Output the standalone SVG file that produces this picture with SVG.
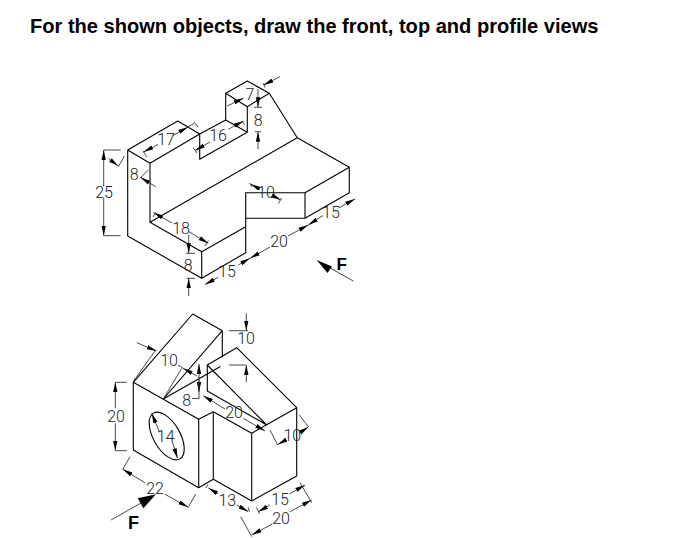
<svg xmlns="http://www.w3.org/2000/svg" width="676" height="538" viewBox="0 0 676 538">
<style>
.e{fill:none;stroke:#000;stroke-width:1.1;stroke-linejoin:round;stroke-linecap:round}
.d{fill:none;stroke:#333;stroke-width:.9;marker-end:url(#a)}
.t{fill:none;stroke:#333;stroke-width:.9}
.l{font-family:"Roboto","Liberation Sans",sans-serif;font-weight:300;font-size:16px;fill:#222;text-anchor:middle}
.b{font-family:"Liberation Sans",Arial,sans-serif;font-weight:700;fill:#000}
.f{fill:#000;stroke:none}
</style>
<defs>
<marker id="a" markerUnits="userSpaceOnUse" markerWidth="11" markerHeight="7" refX="10" refY="3.5" orient="auto"><path d="M0,1.3L10,3.5L0,5.7z" fill="#000"/></marker>
</defs>
<rect width="676" height="538" fill="#fff"/>
<text id="title" class="b" x="30" y="32.5" font-size="20.07">For the shown objects, draw the front, top and profile views</text>

<g id="object-upper">
<path class="e" d="M127.7,150L177.7,121L199.7,134L150,163.3ZM127.7,150V236L201.7,278.3V251.7L150,222.3V163.3M199.7,134V159.3L247.3,132.3L225.7,120L199.7,134M225.7,120V93.3L247.3,81L269.3,93.3L247.3,106.7L225.7,93.3M247.3,106.7V132.3M269.3,93.3L297.3,137.7L349.3,167.3V192.7L305,218.3H245.7M297.3,137.7L150,222.3M201.7,251.7L245.7,226.7M245.7,192.7V252.7L201.7,278.3M245.7,192.7H305L349.3,167.3M305,192.7V218.3"/>
</g>
<g id="dimensions-upper">
<path class="d" d="M158,144.5L143.5,152"/><path class="d" d="M173,135.5L188,127"/>
<path class="t" d="M143,151L147,157M194,122L198,127M188,127L194,123.5"/>
<text class="l" x="166" y="145">17</text>
<path class="d" d="M210,142L195,150.5"/><path class="d" d="M228.3,129.3L243.5,121"/>
<path class="t" d="M193,147.5L197,153M242,121L244.5,125"/>
<text class="l" x="218" y="141">16</text>
<path class="d" d="M227.3,106L243.5,98"/><path class="d" d="M280,76.7L263.5,85"/>
<path class="t" d="M263.5,83L265,87.5"/>
<text class="l" x="250" y="99.5">7</text>
<path class="d" d="M258,89.3V107.3"/><path class="d" d="M258,149.3V131.7"/>
<path class="t" d="M254,107.3H262M255,131.7H261"/>
<text class="l" x="258.3" y="125.5">8</text>
<path class="d" d="M103.7,186.5V150"/><path class="d" d="M103.7,198V235.7"/>
<path class="t" d="M103.7,150H120.7M103.7,235.7H120.7"/>
<text class="l" x="104" y="198">25</text>
<path class="d" d="M108.3,158.3L118.3,166"/><path class="t" d="M118.3,166.7L124.3,156"/>
<path class="t" d="M140,178.3L148.3,170"/><path class="d" d="M155.7,186.7L140.5,177.5"/>
<text class="l" x="134.3" y="180">8</text>
<path class="d" d="M172,223L153.5,212.5"/><path class="d" d="M189,231.7L208.3,243.3"/>
<path class="t" d="M153,217L155.5,212.5M205,246L208.5,240.5"/>
<text class="l" x="181" y="233.5">18</text>
<path class="d" d="M188.7,235V253.3"/><path class="d" d="M188.7,296V278.3"/>
<path class="t" d="M186,253.3H195M186.5,278.3H195"/>
<text class="l" x="188.3" y="271">8</text>
<path class="d" d="M218.3,277.3L205,284.5"/><path class="d" d="M238.3,265L250,258.3"/>
<text class="l" x="227" y="277">15</text>
<path class="d" d="M270,247L250,258.3"/><path class="d" d="M288,236L308.3,225"/>
<text class="l" x="279" y="247">20</text>
<path class="d" d="M323,215.5L308.3,225"/><path class="d" d="M338.5,208L355,199"/>
<text class="l" x="331" y="217.5">15</text>
<path class="d" d="M260,189.3L250.7,184"/><path class="d" d="M273.3,196L280.7,200"/>
<path class="t" d="M249.5,183L252,187M278.5,203.5L281.5,198"/>
<text class="l" x="266" y="198">10</text>
<path class="t" d="M353.3,281L330,268"/><path class="f" d="M316.7,260L332,266.5L327.5,273Z"/>
<text class="b" x="341.7" y="269.5" font-size="17" text-anchor="middle">F</text>
</g>

<g id="object-lower">
<path class="e" d="M133.3,382.3V450L198.7,487.7V419.3L133.3,382.3L192.7,314L222.3,330.7L163.3,399M222.3,330.7V356.7M163.3,399L220,366.7M207.3,365L236.7,347.7L296.7,407.7V476L251.7,501L213.3,479.3L198.7,487.7M207.3,365L266.7,425M207.3,365V391L266.7,425M198.7,419.3L213.3,411.7L251.7,433.3L296.7,407.7M213.3,411.7V479.3M251.7,433.3V501"/>
<ellipse class="e" cx="166.7" cy="436" rx="26.4" ry="13.3" transform="rotate(60 166.7 436)"/>
</g>
<g id="dimensions-lower">
<path class="t" d="M133.5,381L155,351"/><path class="d" d="M136.7,342.7L156.7,351"/>
<path class="t" d="M163.3,399L181.7,368.3M178,365L183,368"/><path class="d" d="M197,376L183,368.3"/>
<text class="l" x="169" y="365.5">10</text>
<path class="d" d="M199,377V364"/><path class="d" d="M199,377V392"/>
<path class="t" d="M199,377V398.5H192"/>
<text class="l" x="186.7" y="405.5">8</text>
<path class="d" d="M246.3,313.3V330.7"/><path class="d" d="M246.3,382.3V365"/>
<path class="t" d="M229,330.7H248M229,365H245.7"/>
<text class="l" x="246" y="344">10</text>
<path class="d" d="M225,409L203.3,395.7"/><path class="d" d="M243.3,418.3L265,431"/>
<text class="l" x="234" y="418">20</text>
<path class="t" d="M270,430L277.7,445M299.3,415L308.3,426.7"/>
<path class="d" d="M285.7,440L277.7,444.5"/><path class="d" d="M299,433.3L308.3,427"/>
<text class="l" x="292.3" y="441">10</text>
<path class="d" d="M115.3,408.3V382.3"/><path class="d" d="M115.3,423.3V450.7"/>
<path class="t" d="M115.3,382.3H126.7M115.3,450.7H126.7"/>
<text class="l" x="116" y="422">20</text>
<path class="d" d="M159.3,431.7L151.7,413.3"/><path class="d" d="M172.3,441.7L177.5,458.3"/>
<text class="l" x="165.7" y="442">14</text>
<path class="t" d="M130,456.7L122.7,469.3M188.3,507.3L195.7,494"/>
<path class="d" d="M145,482.7L122.7,469.3"/><path class="d" d="M165,494.3L188.3,507.3"/>
<text class="l" x="155" y="493.5">22</text>
<path class="d" d="M218.3,494L208.3,488"/><path class="d" d="M236.7,505L248.3,511.7"/>
<path class="t" d="M208,484.5L206,488M248.3,507.5L249.5,511.7"/>
<text class="l" x="227.3" y="505.5">13</text>
<path class="d" d="M270,505L258.3,511.7"/><path class="d" d="M289.3,494L305,485"/>
<path class="t" d="M256.5,507.5L259.5,514M300,482.7L311.7,502.7"/>
<text class="l" x="280" y="504.5">15</text>
<path class="d" d="M272.3,524L251.7,535"/><path class="d" d="M290,511.7L311.7,500"/>
<path class="t" d="M240.7,516.7L251.7,536.7"/>
<text class="l" x="281" y="523.5">20</text>
<path class="t" d="M111,520L141,503"/><path class="f" d="M156,494.3L143.3,508.3L137.7,498.3Z"/>
<text class="b" x="133.5" y="528.5" font-size="18" text-anchor="middle">F</text>
</g>
</svg>
